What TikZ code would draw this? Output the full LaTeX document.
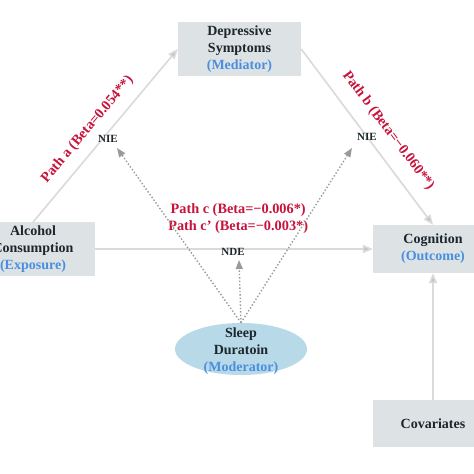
\documentclass[tikz,border=0pt]{standalone}
\usepackage{fontspec}
\setmainfont{Liberation Serif}
\usetikzlibrary{arrows.meta}
\usetikzlibrary{shapes.geometric}
\definecolor{boxgray}{HTML}{DDE2E5}
\definecolor{sleepblue}{HTML}{B8DAE8}
\definecolor{roleblue}{HTML}{4A8FDF}
\definecolor{pathred}{HTML}{C8143C}
\definecolor{txtdark}{HTML}{1C262C}
\definecolor{linegray}{HTML}{DADADA}
\definecolor{dotgray}{HTML}{9A9A9A}

\begin{document}
\begin{tikzpicture}[x=1pt,y=-1pt,
  box/.style={rectangle,fill=boxgray,minimum width=123pt,minimum height=48pt,align=center,text=txtdark,font=\bfseries\fontsize{14}{17}\selectfont},
  pathlbl/.style={text=pathred,font=\bfseries\fontsize{14.3}{17}\selectfont,align=center},
  effect/.style={text=txtdark,font=\bfseries\fontsize{11}{12}\selectfont,inner sep=1pt},
  solidarrow/.style={draw=linegray,line width=1.6pt,-{Triangle[length=10pt,width=8pt,fill=linegray!90!black]}},
  dotarrow/.style={draw=dotgray,line width=1.4pt,dotted,-{Triangle[length=9pt,width=7pt,fill=dotgray]}}]
\useasboundingbox (0,0) rectangle (474,474);
\clip (0,0) rectangle (474,474);
\fill[white] (0,0) rectangle (474,474);

% boxes
\node[box] (dep) at (239.5,49) {Depressive\\Symptoms\\\textcolor{roleblue}{(Mediator)}};
\node[box,minimum width=124pt] (alc) at (33,249) {Alcohol\\Consumption\\\textcolor{roleblue}{(Exposure)}};
\node[box,minimum width=120pt] (cog) at (433,249) {Cognition\\\textcolor{roleblue}{(Outcome)}};
\node[box,minimum width=120pt,minimum height=47pt] (cov) at (433,423.5) {Covariates};
\node[ellipse,fill=sleepblue,minimum width=132pt,minimum height=52pt,inner sep=0pt] (sleep) at (241,349) {};
\node[box,fill=none] (sleeptxt) at (241,351.5) {Sleep\\Duratoin\\\textcolor{roleblue}{(Moderator)}};

% main paths
\draw[solidarrow] (alc.north) -- node[pathlbl,sloped,pos=0.47,above=7pt] {Path a (Beta=0.054**)} (dep.west);
\draw[solidarrow] (dep.east) -- node[pathlbl,sloped,pos=0.535,above=10pt] {Path b (Beta=−0.060**)} (cog.north);
\draw[solidarrow] (alc.east) -- node[pathlbl,pos=0.515,above=11pt] {Path c (Beta=−0.006*)\\Path c' (Beta=−0.003*)} (cog.west);
\draw[solidarrow] (cov.north) -- (cog.south);

% moderation
\coordinate (tipL) at (117,148);
\coordinate (tipR) at (352,148);
\coordinate (tipC) at (239,260);
\draw[dotarrow] (sleep.north) -- (tipL);
\draw[dotarrow] (sleep.north) -- (tipR);
\draw[dotarrow] (sleep.north) -- (tipC);
\node[effect] (nieL) at (108,139) {NIE};
\node[effect] (nieR) at (367,137) {NIE};
\node[effect] (nde) at (233,252) {NDE};

\end{tikzpicture}
\end{document}
